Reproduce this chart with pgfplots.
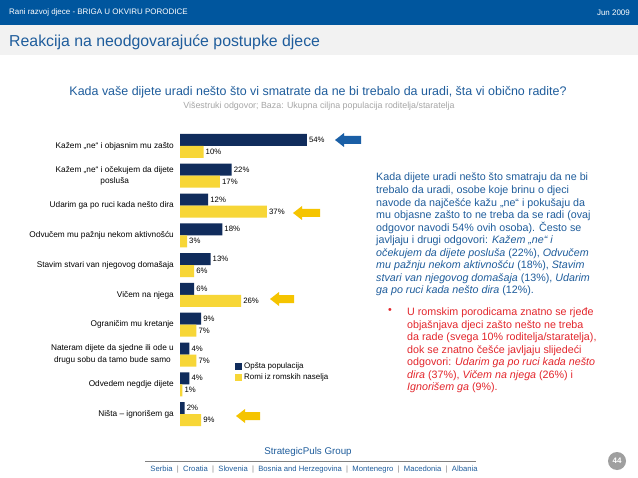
\documentclass[border=0pt]{standalone}
\usepackage{pgfplots}
\pgfplotsset{compat=1.18}
\usepackage{fontspec}
\setmainfont{Liberation Sans}
\definecolor{hdrblue}{HTML}{00569E}
\definecolor{titleblue}{HTML}{1F5D9C}
\definecolor{navy}{HTML}{102C5C}
\definecolor{gold}{HTML}{F7D637}
\definecolor{arrowblue}{HTML}{1A5FA6}
\definecolor{arrowgold}{HTML}{F5C400}
\definecolor{txtred}{HTML}{E3262C}
\definecolor{greytxt}{HTML}{A6A6A6}
\definecolor{band}{HTML}{F2F2F2}
\newcommand\larrow[4]{\fill[#1] (#2,#4) -- (#2+9,#4-7) -- (#2+9,#4-4) -- (#3,#4-4) -- (#3,#4+4) -- (#2+9,#4+4) -- (#2+9,#4+7) -- cycle;}

\begin{document}
\begin{tikzpicture}[x=1bp,y=-1bp]
\path[use as bounding box, fill=white] (0,0) rectangle (638,478);
% header
\fill[hdrblue] (0,0) rectangle (638,25);
\node[anchor=west, text=white, font=\fontsize{8}{9}\selectfont, inner sep=0] at (9,12.5) {Rani razvoj djece - BRIGA U OKVIRU PORODICE};
\node[anchor=east, text=white, font=\fontsize{8}{9}\selectfont, inner sep=0] at (630,12.5) {Jun 2009};
\fill[band] (0,25) rectangle (638,55);
\node[anchor=west, text=titleblue, font=\fontsize{15.9}{18}\selectfont, inner sep=0] at (9,42) {Reakcija na neodgovarajuće postupke djece};
\node[text=titleblue, font=\fontsize{12.5}{14}\selectfont, inner sep=0] at (318,92) {Kada vaše dijete uradi nešto što vi smatrate da ne bi trebalo da uradi, šta vi obično radite?};
\node[text=greytxt, font=\fontsize{8.9}{10}\selectfont, inner sep=0] at (319,106) {Višestruki odgovor; Baza: Ukupna ciljna populacija roditelja/staratelja};

\coordinate (axnw) at (180,131);
\begin{axis}[at={(axnw)}, anchor=north west, scale only axis,
  width=141bp, height=298bp,
  xmin=0, xmax=60, ymin=-0.5, ymax=9.5, y dir=reverse,
  xbar, bar width=12bp,
  axis line style={draw=none}, major tick length=0pt,
  xtick=\empty, ytick={0,...,9},
  yticklabels={{Kažem „ne“ i objasnim mu zašto},{Kažem „ne“ i očekujem da dijete\\posluša},{Udarim ga po ruci kada nešto dira},{Odvučem mu pažnju nekom aktivnošću},{Stavim stvari van njegovog domašaja},{Vičem na njega},{Ograničim mu kretanje},{Nateram dijete da sjedne ili ode u\\drugu sobu da tamo bude samo},{Odvedem negdje dijete},{Ništa – ignorišem ga}},
  yticklabel style={align=center, font=\fontsize{8.3}{11.5}\selectfont, text=black, inner sep=1bp, xshift=-5bp},
  point meta=x,
  nodes near coords={\pgfmathprintnumber{\pgfplotspointmeta}\%},
  nodes near coords style={font=\fontsize{7.8}{9}\selectfont, text=black, anchor=west, inner sep=2bp, /pgf/number format/assume math mode=true},
  legend style={at={(axis cs:23.4,7.2)}, anchor=north west, draw=none, fill=none, font=\fontsize{8}{10}\selectfont, row sep=0bp, inner sep=0pt},
  legend cell align=left,
  legend image code/.code={\fill[#1] (0bp,-3.5bp) rectangle (7bp,3.5bp);},
]
\addplot[fill=navy, draw=none, bar shift=6bp] coordinates {
(54,0) (22,1) (12,2) (18,3) (13,4) (6,5) (9,6) (4,7) (4,8) (2,9)};
\addplot[fill=gold, draw=none, bar shift=-6bp] coordinates {
(10,0) (17,1) (37,2) (3,3) (6,4) (26,5) (7,6) (7,7) (1,8) (9,9)};
\legend{Opšta populacija, Romi iz romskih naselja}
\end{axis}

% arrows
\larrow{arrowblue}{335}{361}{140}
\larrow{arrowgold}{293}{320}{213}
\larrow{arrowgold}{270}{294}{299}
\larrow{arrowgold}{236}{260}{416}

% right text
\node[anchor=north west, align=left, text=titleblue, font=\fontsize{10.75}{12.6}\selectfont, inner sep=0] at (376,173) {Kada dijete uradi nešto što smatraju da ne bi\\
trebalo da uradi, osobe koje brinu o djeci\\
navode da najčešće kažu „ne“ i pokušaju da\\
mu objasne zašto to ne treba da se radi (ovaj\\
odgovor navodi 54\% ovih osoba). Često se\\
javljaju i drugi odgovori: \textit{Kažem „ne“ i}\\
\textit{očekujem da dijete posluša} (22\%), \textit{Odvučem}\\
\textit{mu pažnju nekom aktivnošću} (18\%), \textit{Stavim}\\
\textit{stvari van njegovog domašaja} (13\%), \textit{Udarim}\\
\textit{ga po ruci kada nešto dira} (12\%).};
\node[anchor=north west, text=txtred, font=\fontsize{10.75}{12.5}\selectfont, inner sep=0] at (388,308) {•};
\node[anchor=north west, align=left, text=txtred, font=\fontsize{10.75}{12.5}\selectfont, inner sep=0] at (407,308) {U romskim porodicama znatno se rjeđe\\
objašnjava djeci zašto nešto ne treba\\
da rade (svega 10\% roditelja/staratelja),\\
dok se znatno češće javljaju slijedeći\\
odgovori: \textit{Udarim ga po ruci kada nešto}\\
\textit{dira} (37\%), \textit{Vičem na njega} (26\%) i\\
\textit{Ignorišem ga} (9\%).};

% footer
\node[text=titleblue, font=\fontsize{9.8}{11}\selectfont, inner sep=0] at (308,452) {StrategicPuls Group};
\draw[gray, line width=0.6bp] (145,461) -- (476,461);
\node[text=titleblue, font=\fontsize{7.7}{9}\selectfont, inner sep=0] at (314,470) {Serbia \ \textcolor{gray}{|} \ Croatia \ \textcolor{gray}{|} \ Slovenia \ \textcolor{gray}{|} \ Bosnia and Herzegovina \ \textcolor{gray}{|} \ Montenegro \ \textcolor{gray}{|} \ Macedonia \ \textcolor{gray}{|} \ Albania};
\fill[gray!75] (617,461) circle (9);
\node[text=white, font=\bfseries\fontsize{8}{9}\selectfont, inner sep=0] at (617,461) {44};
\end{tikzpicture}
\end{document}
